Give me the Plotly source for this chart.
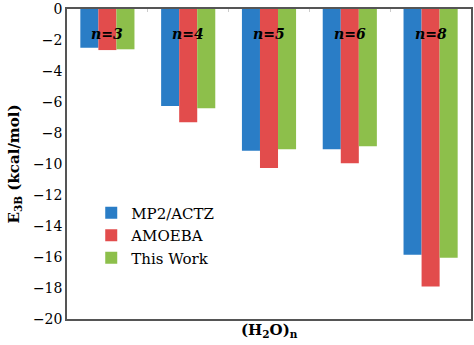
import plotly.graph_objects as go

categories = ["n=3", "n=4", "n=5", "n=6", "n=8"]
mp2 = [-2.5, -6.25, -9.15, -9.05, -15.85]
amoeba = [-2.65, -7.3, -10.25, -9.95, -17.9]
this_work = [-2.6, -6.4, -9.05, -8.85, -16.05]
series_names = ["MP2/ACTZ", "AMOEBA", "This Work"]
colors = ["#2a7dc6", "#e24c4c", "#8dbf4b"]
y_ticks = list(range(-20, 1, 2))
label_y = -1.6

font = "DejaVu Serif"

fig = go.Figure()
for name, vals, c in zip(series_names, [mp2, amoeba, this_work], colors):
    fig.add_trace(go.Bar(x=categories, y=vals, name=name, marker=dict(color=c, line=dict(width=0))))

for cat in categories:
    fig.add_annotation(x=cat, y=label_y, text=f"<b><i>{cat}</i></b>", showarrow=False,
                       font=dict(family=font, size=14, color="black"))

fig.add_annotation(xref="paper", yref="paper", x=0.5, y=0, yshift=-11, yanchor="middle",
                   text="<b>(H<sub>2</sub>O)<sub>n</sub></b>", showarrow=False,
                   font=dict(family=font, size=15, color="black"))

fig.update_layout(
    width=474, height=345,
    margin=dict(l=67, r=1, t=5, b=26),
    paper_bgcolor="white", plot_bgcolor="white",
    barmode="group", bargap=0.33, bargroupgap=0,
    font=dict(family=font, size=15, color="black"),
    showlegend=True,
    legend=dict(x=0.06, y=0.395, xanchor="left", yanchor="top",
                bgcolor="rgba(0,0,0,0)", font=dict(family=font, size=15),
                itemwidth=30, tracegroupgap=0),
    xaxis=dict(side="top", showticklabels=False, ticks="inside", ticklen=3,
               tickcolor="#cccccc", tickson="boundaries",
               showline=True, linecolor="#555555", linewidth=1.5, mirror=True,
               showgrid=False, zeroline=False),
    yaxis=dict(range=[-20, 0], tickvals=y_ticks, ticks="", showgrid=False, zeroline=False,
               ticklabeloverflow="allow",
               showline=True, linecolor="#555555", linewidth=1.5, mirror=True,
               tickfont=dict(family=font, size=14),
               title=dict(text="<b>E<sub>3B</sub> (kcal/mol)</b>", standoff=10,
                          font=dict(family=font, size=15))),
)

fig.write_html("out.html")
